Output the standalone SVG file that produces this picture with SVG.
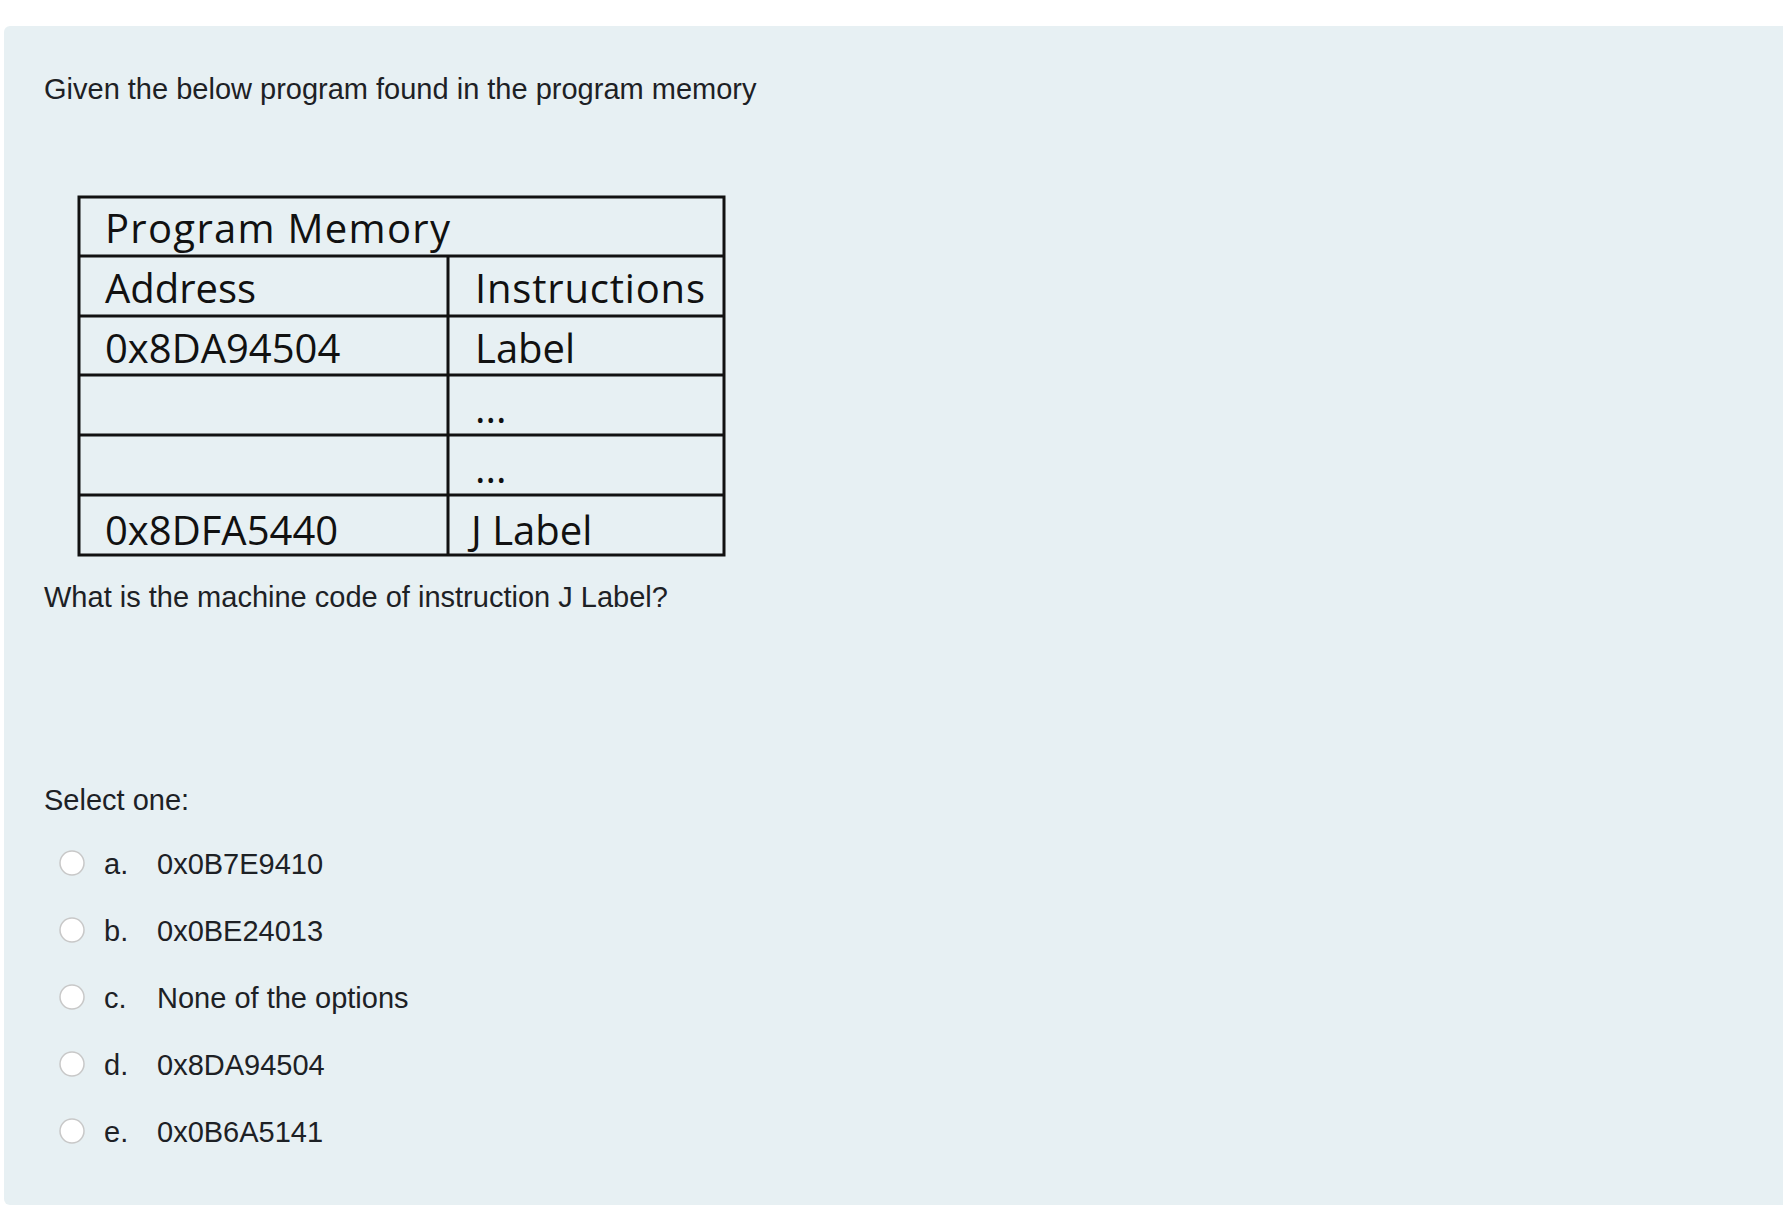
<svg xmlns="http://www.w3.org/2000/svg" width="1783" height="1207" viewBox="0 0 1783 1207">
<style>
.t{font-family:"Liberation Sans",Arial,sans-serif;font-size:29px;fill:#1d2125}
.c{font-family:"Open Sans","Noto Sans",sans-serif;font-size:40px;fill:#111}
.g{stroke:#111;stroke-width:3;fill:none}
.r{fill:#fff;stroke:#c8c8c8;stroke-width:1.5}
</style>
<rect width="1783" height="1207" fill="#fff"/>
<rect x="4" y="26" width="1790" height="1179" rx="6" fill="#e7f0f3"/>
<text class="t" x="44" y="99">Given the below program found in the program memory</text>
<g id="table">
<rect class="g" x="79" y="197" width="645" height="358"/>
<path class="g" d="M79 256H724M79 316H724M79 375H724M79 435H724M79 495H724M448 256V555"/>
<text class="c" x="105" y="243" textLength="345">Program Memory</text>
<text class="c" x="105" y="303">Address</text>
<text class="c" x="475" y="303" textLength="230">Instructions</text>
<text class="c" x="105" y="363">0x8DA94504</text>
<text class="c" x="475" y="363">Label</text>
<text class="c" x="475" y="423">...</text>
<text class="c" x="475" y="483">...</text>
<text class="c" x="105" y="545">0x8DFA5440</text>
<text class="c" x="471" y="545">J Label</text>
</g>
<text class="t" x="44" y="607">What is the machine code of instruction J Label?</text>
<text class="t" x="44" y="810">Select one:</text>
<g id="options">
<circle class="r" cx="72" cy="863" r="12"/><text class="t" x="104" y="874">a.</text><text class="t" x="157" y="874">0x0B7E9410</text>
<circle class="r" cx="72" cy="930" r="12"/><text class="t" x="104" y="941">b.</text><text class="t" x="157" y="941">0x0BE24013</text>
<circle class="r" cx="72" cy="997" r="12"/><text class="t" x="104" y="1008">c.</text><text class="t" x="157" y="1008">None of the options</text>
<circle class="r" cx="72" cy="1064" r="12"/><text class="t" x="104" y="1075">d.</text><text class="t" x="157" y="1075">0x8DA94504</text>
<circle class="r" cx="72" cy="1131" r="12"/><text class="t" x="104" y="1142">e.</text><text class="t" x="157" y="1142">0x0B6A5141</text>
</g>
</svg>
